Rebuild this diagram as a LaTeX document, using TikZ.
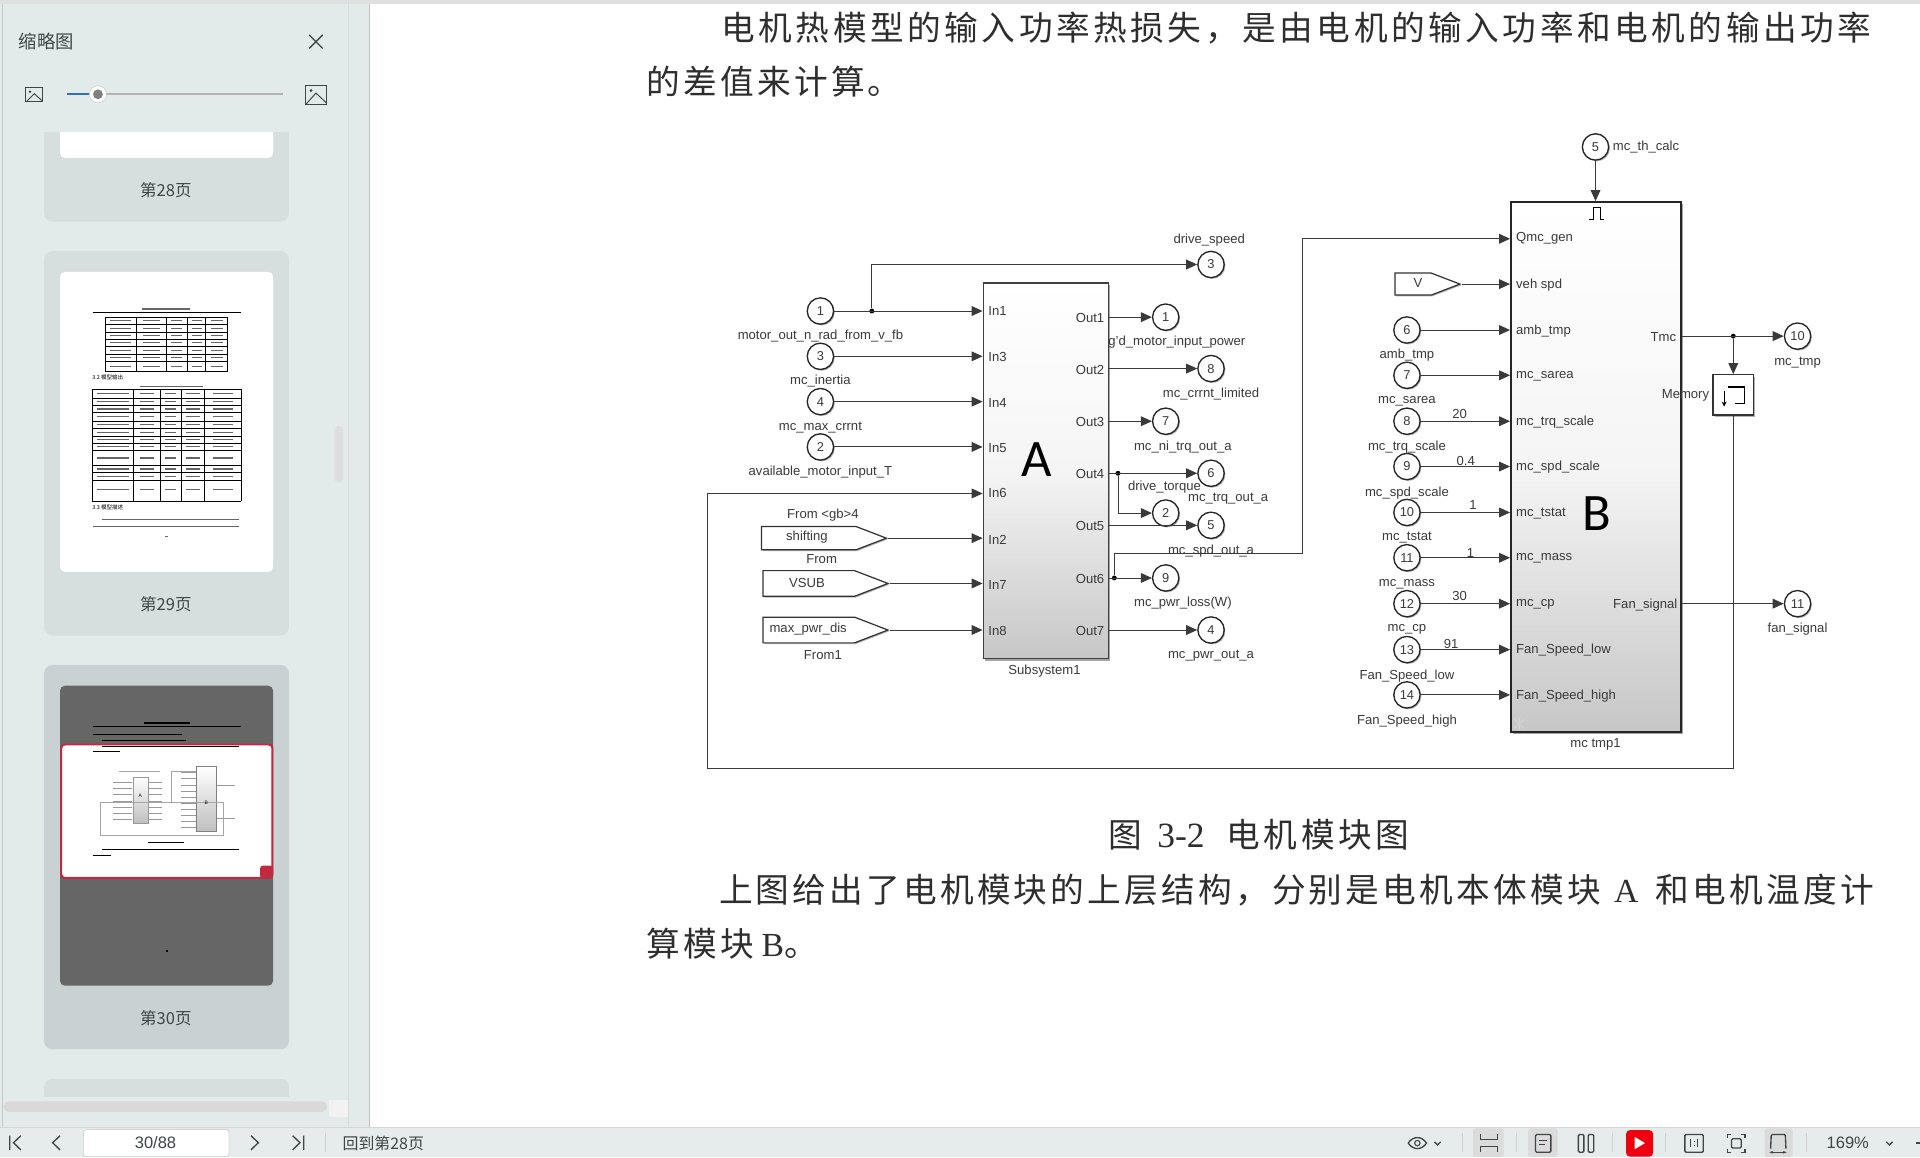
\documentclass[tikz,border=0pt]{standalone}
\usepackage{fontspec}
\setmainfont{Liberation Sans}
\newfontfamily\cjk{Noto Sans CJK SC}
\newfontfamily\cjkwide[LetterSpace=9.5]{Noto Sans CJK SC}
\newfontfamily\cjkwider[LetterSpace=10.5]{Noto Sans CJK SC}
\newfontfamily\latinserif{Liberation Serif}
\newfontfamily\blockfont{Carlito}
\usetikzlibrary{arrows.meta,shapes.symbols,shadows}

\definecolor{sidebg}{HTML}{E3EBEA}
\definecolor{cardbg}{HTML}{D6DEDE}
\definecolor{cardon}{HTML}{C9D1D2}
\definecolor{barbg}{HTML}{E6ECEC}
\definecolor{iconc}{HTML}{3F4648}
\definecolor{inkc}{HTML}{3A3A3A}
\definecolor{redc}{HTML}{BF2A3E}
\definecolor{slidec}{HTML}{2F6FC0}

\tikzset{
  wire/.style={draw=inkc,line width=0.75pt,-{Triangle[length=9pt,width=8pt]}},
  portc/.style={circle,draw=black!85,line width=1.1pt,fill=white,minimum size=21.5pt,inner sep=0pt,
    font=\fontsize{10.5}{12}\selectfont,text=inkc,drop shadow={shadow xshift=1pt,shadow yshift=-1pt,fill=black!50,opacity=.6}},
  portlabel/.style={inner sep=0pt,yshift=-0.8pt,font=\fontsize{10.7}{12}\selectfont,text=inkc},
  blockbox/.style={draw=black!75,line width=1.1pt,inner sep=0pt,top color=white,bottom color=black!22,middle color=white!96!black,
    drop shadow={shadow xshift=1.5pt,shadow yshift=-1.5pt,fill=black!50,opacity=.7}},
  tagbox/.style={signal,signal to=east,signal pointer angle=42,draw=black!80,line width=1pt,fill=white,inner sep=0pt,
    drop shadow={shadow xshift=1pt,shadow yshift=-1pt,fill=black!50,opacity=.6}},
  dotj/.style={circle,fill=black,inner sep=0pt,minimum size=4pt},
  bodytext/.style={inner sep=0pt,anchor=west,text=black!82,font=\fontsize{27.5}{30}\cjkwide},
  uitext/.style={inner sep=0pt,text=iconc,font=\fontsize{13.5}{16}\cjk},
  icon/.style={draw=iconc,line width=1.1pt},
  sepline/.style={draw=black!18,line width=0.7pt},
  thumbrule/.style={draw=black,line width=0.5pt},
  greek/.style={draw=black!60,line width=0.9pt},
}

\begin{document}
\begin{tikzpicture}[x=1pt,y=-1pt]
\useasboundingbox (0,0) rectangle (1568,945);

% page and side panel
\fill[white] (0,0) rectangle (1568,945);
\fill[black!12] (0,0) rectangle (1568,3);
\fill[sidebg] (0,3) rectangle (302,921);
\draw[black!22,line width=0.8pt] (2.2,3) -- (2.2,921);
\draw[black!14,line width=0.8pt] (285,3) -- (285,921);
\draw[black!24,line width=0.8pt] (302,3) -- (302,921);

% cards of the thumbnails
\fill[cardbg,rounded corners=7pt] (36,90) rectangle (236,181);
\fill[cardbg,rounded corners=7pt] (36,205) rectangle (236,519);
\fill[cardon,rounded corners=7pt] (36,543) rectangle (236,857);
\fill[cardbg,rounded corners=7pt] (36,881) rectangle (236,930);
\fill[white,rounded corners=4pt] (49,90) rectangle (223,129);
\fill[white,rounded corners=4pt] (49,222) rectangle (223,467);
\fill[black!60,rounded corners=4pt] (49,560) rectangle (223,805);
\fill[sidebg] (3,3) rectangle (284.5,108);
\fill[sidebg] (3,896) rectangle (284.5,920.5);

\node[uitext,font=\fontsize{15}{16}\cjk] (paneltitle) at (38,33.5) {缩略图};
\draw[icon] (252.5,28.5) -- (263.5,39.5) (263.5,28.5) -- (252.5,39.5);
\draw[icon,line width=0.9pt] (21,71.5) rectangle (34.5,83);
\draw[icon,line width=0.8pt] (22,82.5) -- (28,76.5) -- (34,82);
\fill[iconc] (24.5,75) circle (1.1pt);
\draw[icon,line width=0.8pt] (249.5,69.5) rectangle (266.5,85);
\draw[icon,line width=0.8pt] (250,85) -- (258,76) -- (266.5,84);
\fill[iconc] (254,74) circle (1.3pt);
\draw[black!30,line width=1.6pt] (55,77) -- (231,77);
\draw[slidec,line width=1.8pt] (55,77) -- (74,77);
\draw[black!22,fill=white] (80,77) circle (7pt);
\fill[black!50] (80,77) circle (4pt);

\node[uitext] (pagelabA) at (135.5,155.5) {第28页};
\node[uitext] (pagelabB) at (135.5,493.5) {第29页};
\node[uitext] (pagelabC) at (135.5,831.5) {第30页};

% scroll bars
\fill[black!13,rounded corners=3pt] (273,348) rectangle (280,394);
\fill[black!15,rounded corners=4pt] (3,899.5) rectangle (267,908);
\fill[black!5] (269,898) rectangle (284,912);

% small page 29
\draw[thumbrule,line width=1pt] (76,255) -- (197,255);
\draw[greek,line width=1.2pt] (116,252.5) -- (155,252.5);
\foreach \yy in {259,265,271,277,283,289,295,303}
  \draw[thumbrule] (86,\yy) -- (186,\yy);
\foreach \xx in {86,111,136,153,168,186}
  \draw[thumbrule] (\xx,259) -- (\xx,303);
\foreach \yy in {262,268,274,280,286,292,299}
  \foreach \xa/\xb in {90/107,117/131,140/149,157/165,172/182}
    \draw[greek] (\xa,\yy) -- (\xb,\yy);
\node[inner sep=0pt,font=\fontsize{4.5}{5}\cjk] (secA) at (88,308) {3.2 模型输出};
\draw[greek] (114,316) -- (166,316);
\foreach \yy in {318,325,331,337,344,350,356,362,368,380,386,392,409}
  \draw[thumbrule] (75,\yy) -- (197,\yy);
\foreach \xx in {75,109,131,148,167,197}
  \draw[thumbrule] (\xx,318) -- (\xx,409);
\foreach \yy in {321,328,334,340,347,353,359,365,374,383,389,400}
  \foreach \xa/\xb in {79/105,114/126,135/144,152/163,174/190}
    \draw[greek] (\xa,\yy) -- (\xb,\yy);
\node[inner sep=0pt,font=\fontsize{4.5}{5}\cjk] (secB) at (88,414) {3.3 模型描述};
\draw[greek] (83,424) -- (195,424);
\draw[greek] (76,430) -- (195,430);
\draw[greek] (135,438) -- (137,438);

% small page 30
\draw[black,line width=1pt] (76,593) -- (197,593);
\draw[black,line width=1.2pt] (118,590.5) -- (155,590.5);
\draw[black,line width=1pt] (76,600) -- (149,600);
\draw[black,line width=1pt] (83,604.5) -- (152,604.5);
\fill[white,rounded corners=3pt] (50,608) rectangle (222,717);
\draw[redc,line width=1.6pt,rounded corners=3pt] (50,608) rectangle (222.5,717);
\fill[redc,rounded corners=2pt] (212.5,707) rectangle (223,717.5);
\draw[black,line width=1pt] (83,609.5) -- (195,609.5);
\draw[black,line width=1pt] (76,614) -- (98,614);
\shade[top color=white,bottom color=black!25] (108.5,634.5) rectangle (121,672);
\shade[top color=white,bottom color=black!25] (160,626) rectangle (177,679);
\draw[black!40,line width=0.4pt] (108.5,634.5) rectangle (121,672);
\draw[black!50,line width=0.5pt] (160,626) rectangle (177,679);
\draw[black!35,line width=0.4pt] (82,682) rectangle (182,655);
\draw[black!35,line width=0.4pt] (97,629.5) -- (131,629.5) (121,655) -- (140,655) -- (140,630) -- (160,630);
\foreach \yy in {639,644,649,654,659,664,669}
  \draw[black!40,line width=0.5pt] (92,\yy) -- (108,\yy) (121,\yy) -- (132,\yy);
\foreach \yy in {631,636,641,646,651,656,661,666,671,676}
  \draw[black!40,line width=0.5pt] (148,\yy) -- (160,\yy);
\draw[black!40,line width=0.5pt] (177,641) -- (192,641) (177,668) -- (192,668);
\node[inner sep=0pt,font=\fontsize{4}{5}\selectfont] (miniA) at (114.5,650) {A};
\node[inner sep=0pt,font=\fontsize{4}{5}\selectfont] (miniB) at (168.5,656) {B};
\draw[black,line width=1pt] (121,688) -- (150,688);
\draw[black,line width=1pt] (83,693.5) -- (195,693.5);
\draw[black,line width=1pt] (76,698.6) -- (91,698.6);
\fill[black] (135.2,775.6) rectangle (137.2,777.4);

% status bar
\fill[barbg] (0,921) rectangle (1568,945);
\draw[black!16,line width=0.8pt] (0,920.5) -- (1568,920.5);
\draw[icon] (8,927.5) -- (8,939) (17,927.5) -- (11,933.2) -- (17,939);
\draw[icon] (49,927.5) -- (43,933.2) -- (49,939);
\draw[black!22,fill=white,rounded corners=2.5pt] (68,922.5) rectangle (187,944.5);
\node[uitext,font=\fontsize{13.5}{16}\selectfont] (pagebox) at (127,933.5) {30/88};
\draw[icon] (205,927.5) -- (211,933.2) -- (205,939);
\draw[icon] (239,927.5) -- (245,933.2) -- (239,939) (248,927.5) -- (248,939);
\draw[sepline] (266,925) -- (266,941);
\node[uitext,font=\fontsize{13}{16}\cjk] (backlink) at (313,933.5) {回到第28页};

\fill[black!14,rounded corners=2pt] (1203,921.5) rectangle (1228,945);
\fill[black!14,rounded corners=2pt] (1248,921.5) rectangle (1272,945);
\fill[black!14,rounded corners=2pt] (1441,921.5) rectangle (1464,945);
\draw[icon] (1150,933.5) .. controls (1154,927.5) and (1161,927.5) .. (1165,933.5) .. controls (1161,939.5) and (1154,939.5) .. (1150,933.5);
\draw[icon,line width=.9pt] (1157.5,933.5) circle (2.2pt);
\draw[icon] (1171.5,932.5) -- (1174,935) -- (1176.5,932.5);
\draw[sepline] (1194,925) -- (1194,941);
\draw[icon] (1209,926) -- (1209,930.5) -- (1223,930.5) -- (1223,926) (1209,941) -- (1209,936.5) -- (1223,936.5) -- (1223,941);
\draw[sepline] (1238,925) -- (1238,941);
\draw[icon,rounded corners=1pt] (1254,926.5) rectangle (1266.5,941);
\draw[icon,line width=.8pt] (1257,931) -- (1263.5,931) (1257,935) -- (1261.5,935);
\draw[icon,rounded corners=1pt] (1289,926.5) rectangle (1293.5,941);
\draw[icon,rounded corners=1pt] (1297,926.5) rectangle (1301.5,941);
\draw[sepline] (1317,925) -- (1317,941);
\fill[red!75!purple,rounded corners=3pt] (1328,923) rectangle (1350,944.5);
\fill[white] (1335,928.5) -- (1343.5,933.5) -- (1335,938.5) -- cycle;
\draw[sepline] (1360,925) -- (1360,941);
\draw[icon,rounded corners=1pt] (1376,926.5) rectangle (1391,941);
\draw[icon,line width=.8pt] (1380.5,930.5) -- (1380.5,937) (1386.5,930.5) -- (1386.5,937);
\draw[icon,line width=.8pt] (1383.5,931.5) -- (1383.5,932.5) (1383.5,935) -- (1383.5,936);
\draw[icon,rounded corners=1pt] (1414,930) rectangle (1422,937.5);
\draw[icon] (1411,929.5) -- (1411,926.5) -- (1414,926.5) (1422,926.5) -- (1425,926.5) -- (1425,929.5) (1425,938) -- (1425,941) -- (1422,941) (1414,941) -- (1411,941) -- (1411,938);
\draw[icon,rounded corners=1pt] (1446,938) -- (1446.5,926.5) -- (1458,926.5) -- (1458.5,938);
\draw[icon,line width=.8pt,{Stealth[length=3pt]}-{Stealth[length=3pt]}] (1445,941) -- (1459,941);
\draw[sepline] (1475,925) -- (1475,941);
\node[uitext,font=\fontsize{13.5}{16}\selectfont] (zoomval) at (1509,933.5) {169\%};
\draw[icon] (1540.5,932.5) -- (1543,935) -- (1545.5,932.5);
\draw[icon] (1565,933.5) -- (1568,933.5);

% text of the page
\node[bodytext,font=\fontsize{27.5}{30}\cjkwider] (lineA) at (589,23) {电机热模型的输入功率热损失，是由电机的输入功率和电机的输出功率};
\node[bodytext] (lineB) at (528,67) {的差值来计算。};
\node[bodytext,font=\fontsize{27.5}{30}\cjkwider] (capfig) at (905,682) {图\hspace{12.5pt}{\fontsize{29}{30}\latinserif 3-2}\hspace{18pt}电机模块图};
\node[bodytext] (lineC) at (587,727) {上图给出了电机模块的上层结构，分别是电机本体模块\hspace{11pt}{\latinserif A}\hspace{14pt}和电机温度计};
\node[bodytext] (lineD) at (528,771) {算模块\hspace{6pt}{\latinserif B}。};

% block A and its ports
\node[blockbox,minimum width=102pt,minimum height=307pt] (subA) at (854,384.5) {};
\node[inner sep=0pt,font=\fontsize{43}{44}\blockfont] (nameA) at (847,375) {A};
\node[portlabel] (subAname) at (853,547) {Subsystem1};

\node[portc] (cA) at (670,254) {1};
\node[portc] (cC) at (670,291) {3};
\node[portc] (cD) at (670,328) {4};
\node[portc] (cB) at (670,365) {2};
\node[portlabel] (labA) at (670,273.5) {motor\_out\_n\_rad\_from\_v\_fb};
\node[portlabel] (labC) at (670,310.5) {mc\_inertia};
\node[portlabel] (labD) at (670,348) {mc\_max\_crrnt};
\node[portlabel] (labB) at (670,385) {available\_motor\_input\_T};

\node[tagbox,minimum width=102pt,minimum height=19pt] (tagS) at (660.5,439.5) {};
\node[tagbox,minimum width=102pt,minimum height=21pt] (tagV) at (660.5,476.5) {};
\node[tagbox,minimum width=102pt,minimum height=21pt] (tagM) at (660.5,514.5) {};
\node[portlabel] (txtS) at (659,438) {shifting};
\node[portlabel] (txtV) at (659,475.5) {VSUB};
\node[portlabel] (txtM) at (660,513) {max\_pwr\_dis};
\node[portlabel] (labGb) at (672,420) {From <gb>4};
\node[portlabel] (labF) at (671,455.5) {From};
\node[portlabel] (labFa) at (672,534.5) {From1};

\node[portlabel,anchor=west] (inA) at (807,253.5) {In1};
\node[portlabel,anchor=west] (inC) at (807,291) {In3};
\node[portlabel,anchor=west] (inD) at (807,328) {In4};
\node[portlabel,anchor=west] (inE) at (807,365.5) {In5};
\node[portlabel,anchor=west] (inF) at (807,402.2) {In6};
\node[portlabel,anchor=west] (inB) at (807,440) {In2};
\node[portlabel,anchor=west] (inG) at (807,477) {In7};
\node[portlabel,anchor=west] (inH) at (807,514.5) {In8};

\node[dotj] (jA) at (712,254) {};
\draw[wire] (cA) -- (cA -| subA.west);
\draw[wire] (cC) -- (cC -| subA.west);
\draw[wire] (cD) -- (cD -| subA.west);
\draw[wire] (cB) -- (cB -| subA.west);
\draw[wire] (tagS.east) -- (tagS.east -| subA.west);
\draw[wire] (tagV.east) -- (tagV.east -| subA.west);
\draw[wire] (tagM.east) -- (tagM.east -| subA.west);

\node[portlabel,anchor=east] (outA) at (902,258.5) {Out1};
\node[portlabel,anchor=east] (outB) at (902,301) {Out2};
\node[portlabel,anchor=east] (outC) at (902,344) {Out3};
\node[portlabel,anchor=east] (outD) at (902,386.5) {Out4};
\node[portlabel,anchor=east] (outE) at (902,429) {Out5};
\node[portlabel,anchor=east] (outF) at (902,472) {Out6};
\node[portlabel,anchor=east] (outG) at (902,514.5) {Out7};

\node[portc] (oC) at (989,216) {3};
\node[portc] (oA) at (952,259) {1};
\node[portc] (oH) at (989,301) {8};
\node[portc] (oG) at (952,344) {7};
\node[portc] (oF) at (989,386.5) {6};
\node[portc] (oB) at (952,419) {2};
\node[portc] (oE) at (989,429) {5};
\node[portc] (oI) at (952,472) {9};
\node[portc] (oD) at (989,514.5) {4};
\node[portlabel] (labOc) at (987.5,195) {drive\_speed};
\node[portlabel,anchor=west] (labOa) at (905,278.5) {g'd\_motor\_input\_power};
\node[portlabel] (labOh) at (989,321) {mc\_crrnt\_limited};
\node[portlabel] (labOg) at (966,364) {mc\_ni\_trq\_out\_a};
\node[portlabel] (labOf) at (951,397) {drive\_torque};
\node[portlabel] (labOb) at (1003,406.5) {mc\_trq\_out\_a};
\node[portlabel] (labOe) at (989,449.5) {mc\_spd\_out\_a};
\node[portlabel] (labOi) at (966,492) {mc\_pwr\_loss(W)};
\node[portlabel] (labOd) at (989,534.5) {mc\_pwr\_out\_a};

\node[dotj] (jD) at (913,386.5) {};
\node[dotj] (jF) at (910,472) {};
\draw[wire] (jA) |- (oC);
\draw[wire] (oA -| subA.east) -- (oA);
\draw[wire] (oH -| subA.east) -- (oH);
\draw[wire] (oG -| subA.east) -- (oG);
\draw[wire] (oF -| subA.east) -- (oF);
\draw[wire] (jD) |- (oB);
\draw[wire] (oE -| subA.east) -- (oE);
\draw[wire] (oI -| subA.east) -- (oI);
\draw[wire] (oD -| subA.east) -- (oD);

% block B and its ports
\node[blockbox,minimum width=139pt,minimum height=433pt,line width=1.6pt,draw=black!85] (subB) at (1303.5,381.5) {};
\node[inner sep=0pt,font=\fontsize{43}{44}\blockfont] (nameB) at (1304,419.5) {B};
\node[portlabel] (subBname) at (1303,607) {mc tmp1};
\draw[black,line width=0.9pt] (1298,179) -- (1301,179) -- (1301,169.5) -- (1307,169.5) -- (1307,179) -- (1310,179);
\draw[black!18,line width=1pt] (1236.5,587) -- (1245,595) (1245,587) -- (1236.5,595) (1240.8,586) -- (1240.8,596);

\node[portc] (tC) at (1303,120) {5};
\node[portlabel,anchor=west] (labTc) at (1317,119) {mc\_th\_calc};
\draw[wire] (tC) -- (tC |- subB.north);

\node[portlabel,anchor=west] (qA) at (1238,194.2) {Qmc\_gen};
\node[portlabel,anchor=west] (qB) at (1238,232) {veh spd};
\node[portlabel,anchor=west] (qC) at (1238,269.5) {amb\_tmp};
\node[portlabel,anchor=west] (qD) at (1238,306.5) {mc\_sarea};
\node[portlabel,anchor=west] (qE) at (1238,344) {mc\_trq\_scale};
\node[portlabel,anchor=west] (qF) at (1238,381) {mc\_spd\_scale};
\node[portlabel,anchor=west] (qG) at (1238,418.5) {mc\_tstat};
\node[portlabel,anchor=west] (qH) at (1238,455.5) {mc\_mass};
\node[portlabel,anchor=west] (qI) at (1238,493) {mc\_cp};
\node[portlabel,anchor=west] (qJ) at (1238,530.5) {Fan\_Speed\_low};
\node[portlabel,anchor=west] (qK) at (1238,567.5) {Fan\_Speed\_high};

\node[tagbox,minimum width=53pt,minimum height=18pt] (tagW) at (1154,232) {};
\node[portlabel] (txtW) at (1158,230) {V};
\node[portc] (pF) at (1149,269.5) {6};
\node[portc] (pG) at (1149,306.5) {7};
\node[portc] (pH) at (1149,344) {8};
\node[portc] (pI) at (1149,381) {9};
\node[portc] (pJ) at (1149,418.5) {10};
\node[portc] (pK) at (1149,455.5) {11};
\node[portc] (pL) at (1149,493) {12};
\node[portc] (pM) at (1149,530.5) {13};
\node[portc] (pN) at (1149,567.5) {14};
\node[portlabel] (labPf) at (1149,289.5) {amb\_tmp};
\node[portlabel] (labPg) at (1149,327) {mc\_sarea};
\node[portlabel] (labPh) at (1149,364) {mc\_trq\_scale};
\node[portlabel] (labPi) at (1149,401.5) {mc\_spd\_scale};
\node[portlabel] (labPj) at (1149,438.5) {mc\_tstat};
\node[portlabel] (labPk) at (1149,476) {mc\_mass};
\node[portlabel] (labPl) at (1149,513) {mc\_cp};
\node[portlabel] (labPm) at (1149,551) {Fan\_Speed\_low};
\node[portlabel] (labPn) at (1149,588) {Fan\_Speed\_high};
\node[portlabel] (valH) at (1192,337) {20};
\node[portlabel] (valI) at (1197,376) {0.4};
\node[portlabel] (valJ) at (1203,412) {1};
\node[portlabel] (valK) at (1201,451) {1};
\node[portlabel] (valL) at (1192,486) {30};
\node[portlabel] (valM) at (1185,525) {91};

\draw[wire] (tagW.east) -- (tagW.east -| subB.west);
\draw[wire] (pF) -- (pF -| subB.west);
\draw[wire] (pG) -- (pG -| subB.west);
\draw[wire] (pH) -- (pH -| subB.west);
\draw[wire] (pI) -- (pI -| subB.west);
\draw[wire] (pJ) -- (pJ -| subB.west);
\draw[wire] (pK) -- (pK -| subB.west);
\draw[wire] (pL) -- (pL -| subB.west);
\draw[wire] (pM) -- (pM -| subB.west);
\draw[wire] (pN) -- (pN -| subB.west);

\coordinate (bendQ) at (1064,452);
\draw[wire] (jF) |- (bendQ) |- (qA -| subB.west);

% outputs of block B and the loop back
\node[portlabel,anchor=east] (rA) at (1369,274.5) {Tmc};
\node[portlabel,anchor=east] (rB) at (1370,493) {Fan\_signal};
\node[portc] (oJ) at (1468,274.5) {10};
\node[portc] (oK) at (1468,493) {11};
\node[portlabel] (labOj) at (1468,295.5) {mc\_tmp};
\node[portlabel] (labOk) at (1468,513) {fan\_signal};
\node[dotj] (jT) at (1415.5,274.5) {};
\node[draw=black!80,line width=1pt,fill=white,minimum size=33pt,inner sep=0pt,
  drop shadow={shadow xshift=1.5pt,shadow yshift=-1.5pt,fill=black!50,opacity=.6}] (memBox) at (1415.5,322.5) {};
\node[portlabel,anchor=east] (memName) at (1396,322) {Memory};
\draw[black,line width=1pt] (1411,316) -- (1424.5,316) -- (1424.5,329.5) -- (1417,329.5);
\draw[black,line width=0.8pt,-{Stealth[length=4pt,width=4pt]}] (1408,319) -- (1408,332);

\draw[wire] (oJ -| subB.east) -- (oJ);
\draw[wire] (oK -| subB.east) -- (oK);
\draw[wire] (jT) -- (memBox.north);

\coordinate (loopA) at (578,627.5);
\draw[wire] (memBox.south) |- (loopA) |- (inF -| subA.west);
\end{tikzpicture}
\end{document}
